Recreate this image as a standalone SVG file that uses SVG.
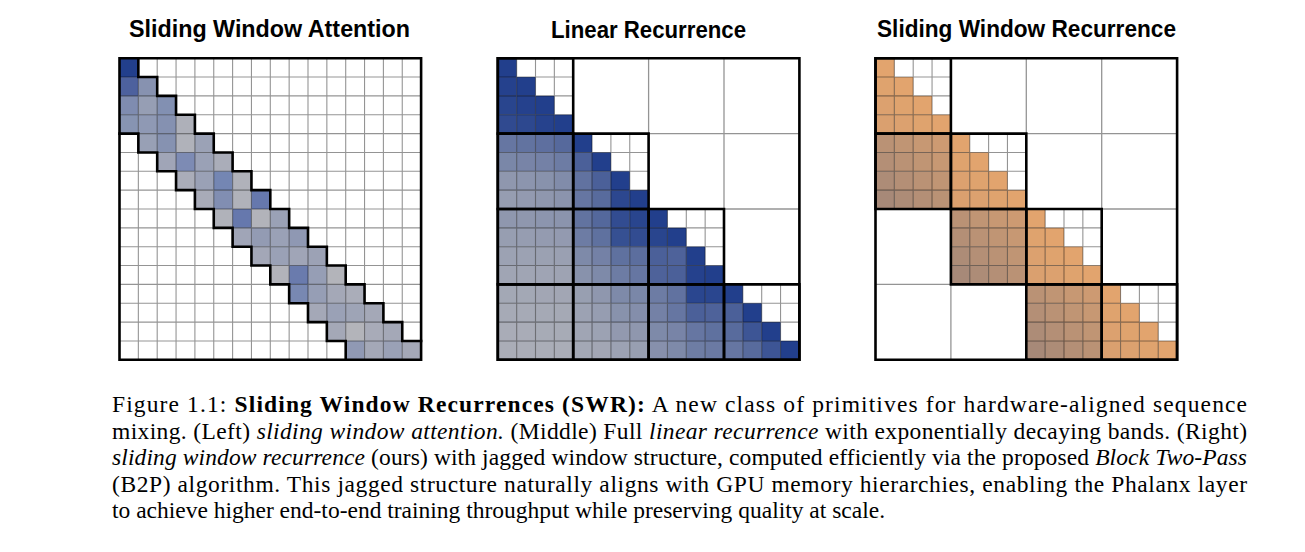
<svg xmlns="http://www.w3.org/2000/svg" width="1305" height="552" viewBox="0 0 1305 552">
<style>
.title{font-family:"Liberation Sans",Arial,sans-serif;font-weight:bold;font-size:23px;fill:#000}
.cap{font-family:"Liberation Serif","Times New Roman",serif;font-size:23.5px;fill:#000}
.b{font-weight:bold}
.i{font-style:italic}
.thin{fill:none;stroke:#000;stroke-opacity:.42;stroke-width:1.1;vector-effect:non-scaling-stroke}
.blk{fill:none;stroke:#000;stroke-opacity:.42;stroke-width:1.3;vector-effect:non-scaling-stroke}
.thick,.thick *{fill:none;stroke:#000;stroke-width:2.6;vector-effect:non-scaling-stroke;stroke-linecap:square}
</style>
<defs>
<g id="rd">
<rect x="0" y="0" width="1" height="1" fill="#e2a46e"/>
<rect x="0" y="1" width="1" height="1" fill="#dfa36e"/><rect x="1" y="1" width="1" height="1" fill="#e2a46e"/>
<rect x="0" y="2" width="1" height="1" fill="#dca16f"/><rect x="1" y="2" width="1" height="1" fill="#dfa36e"/><rect x="2" y="2" width="1" height="1" fill="#e2a46e"/>
<rect x="0" y="3" width="1" height="1" fill="#daa06f"/><rect x="1" y="3" width="1" height="1" fill="#dca16f"/><rect x="2" y="3" width="1" height="1" fill="#dfa36e"/><rect x="3" y="3" width="1" height="1" fill="#e2a46e"/>
</g>
<g id="rs">
<rect x="0" y="0" width="1" height="1" fill="#ba9275"/><rect x="1" y="0" width="1" height="1" fill="#c09574"/><rect x="2" y="0" width="1" height="1" fill="#c79873"/><rect x="3" y="0" width="1" height="1" fill="#cd9a72"/>
<rect x="0" y="1" width="1" height="1" fill="#b48f76"/><rect x="1" y="1" width="1" height="1" fill="#ba9275"/><rect x="2" y="1" width="1" height="1" fill="#c09574"/><rect x="3" y="1" width="1" height="1" fill="#c79873"/>
<rect x="0" y="2" width="1" height="1" fill="#ad8c77"/><rect x="1" y="2" width="1" height="1" fill="#b48f76"/><rect x="2" y="2" width="1" height="1" fill="#ba9275"/><rect x="3" y="2" width="1" height="1" fill="#c09574"/>
<rect x="0" y="3" width="1" height="1" fill="#a78978"/><rect x="1" y="3" width="1" height="1" fill="#ad8c77"/><rect x="2" y="3" width="1" height="1" fill="#b48f76"/><rect x="3" y="3" width="1" height="1" fill="#ba9275"/>
</g>
</defs>

<g id="panel-swa">
<text class="title" x="129" y="37" textLength="281" lengthAdjust="spacingAndGlyphs">Sliding Window Attention</text>
<g transform="translate(119.5,58.2) scale(18.85)">
<rect width="16" height="16" fill="#fff"/>
<rect x="0" y="0" width="1" height="1" fill="#223f8c"/>
<rect x="0" y="1" width="1" height="1" fill="#4d619e"/><rect x="1" y="1" width="1" height="1" fill="#8792b0"/>
<rect x="0" y="2" width="1" height="1" fill="#7f8cb0"/><rect x="1" y="2" width="1" height="1" fill="#969eb4"/><rect x="2" y="2" width="1" height="1" fill="#8290b2"/>
<rect x="0" y="3" width="1" height="1" fill="#8794b2"/><rect x="1" y="3" width="1" height="1" fill="#8f99b4"/><rect x="2" y="3" width="1" height="1" fill="#8591b1"/><rect x="3" y="3" width="1" height="1" fill="#aeb0b9"/>
<rect x="1" y="4" width="1" height="1" fill="#98a0b5"/><rect x="2" y="4" width="1" height="1" fill="#8692b1"/><rect x="3" y="4" width="1" height="1" fill="#b0b2ba"/><rect x="4" y="4" width="1" height="1" fill="#9ba2b6"/>
<rect x="2" y="5" width="1" height="1" fill="#a0a5b7"/><rect x="3" y="5" width="1" height="1" fill="#7d8bb4"/><rect x="4" y="5" width="1" height="1" fill="#9aa1b6"/><rect x="5" y="5" width="1" height="1" fill="#aaadb9"/>
<rect x="3" y="6" width="1" height="1" fill="#aaadb9"/><rect x="4" y="6" width="1" height="1" fill="#9aa1b6"/><rect x="5" y="6" width="1" height="1" fill="#7486b3"/><rect x="6" y="6" width="1" height="1" fill="#b0b2ba"/>
<rect x="4" y="7" width="1" height="1" fill="#a8abb8"/><rect x="5" y="7" width="1" height="1" fill="#818eb2"/><rect x="6" y="7" width="1" height="1" fill="#b0b2ba"/><rect x="7" y="7" width="1" height="1" fill="#6678ad"/>
<rect x="5" y="8" width="1" height="1" fill="#b0b2ba"/><rect x="6" y="8" width="1" height="1" fill="#6678ad"/><rect x="7" y="8" width="1" height="1" fill="#b2b3ba"/><rect x="8" y="8" width="1" height="1" fill="#9aa1b6"/>
<rect x="6" y="9" width="1" height="1" fill="#a0a5b7"/><rect x="7" y="9" width="1" height="1" fill="#939bb3"/><rect x="8" y="9" width="1" height="1" fill="#9aa1b6"/><rect x="9" y="9" width="1" height="1" fill="#8f98b3"/>
<rect x="7" y="10" width="1" height="1" fill="#a3a7b7"/><rect x="8" y="10" width="1" height="1" fill="#9aa1b6"/><rect x="9" y="10" width="1" height="1" fill="#a0a5b7"/><rect x="10" y="10" width="1" height="1" fill="#9ca2b5"/>
<rect x="8" y="11" width="1" height="1" fill="#b2b3ba"/><rect x="9" y="11" width="1" height="1" fill="#6a7bad"/><rect x="10" y="11" width="1" height="1" fill="#969eb5"/><rect x="11" y="11" width="1" height="1" fill="#b3b4ba"/>
<rect x="9" y="12" width="1" height="1" fill="#7888b2"/><rect x="10" y="12" width="1" height="1" fill="#969eb5"/><rect x="11" y="12" width="1" height="1" fill="#a4a8b7"/><rect x="12" y="12" width="1" height="1" fill="#aaadb9"/>
<rect x="10" y="13" width="1" height="1" fill="#a4a8b7"/><rect x="11" y="13" width="1" height="1" fill="#9aa1b6"/><rect x="12" y="13" width="1" height="1" fill="#9ea4b6"/><rect x="13" y="13" width="1" height="1" fill="#a4a8b7"/>
<rect x="11" y="14" width="1" height="1" fill="#a4a8b7"/><rect x="12" y="14" width="1" height="1" fill="#b3b4ba"/><rect x="13" y="14" width="1" height="1" fill="#a8abb8"/><rect x="14" y="14" width="1" height="1" fill="#a4a8b7"/>
<rect x="12" y="15" width="1" height="1" fill="#9099b4"/><rect x="13" y="15" width="1" height="1" fill="#a4a8b7"/><rect x="14" y="15" width="1" height="1" fill="#9aa1b6"/><rect x="15" y="15" width="1" height="1" fill="#a4a8b7"/>
<path class="thin" d="M1 0V16M2 0V16M3 0V16M4 0V16M5 0V16M6 0V16M7 0V16M8 0V16M9 0V16M10 0V16M11 0V16M12 0V16M13 0V16M14 0V16M15 0V16M0 1H16M0 2H16M0 3H16M0 4H16M0 5H16M0 6H16M0 7H16M0 8H16M0 9H16M0 10H16M0 11H16M0 12H16M0 13H16M0 14H16M0 15H16"/>
<path class="thick" d="M1 0V1H2V2H3V3H4V4H5V5H6V6H7V7H8V8H9V9H10V10H11V11H12V12H13V13H14V14H15V15H16"/>
<path class="thick" d="M0 4H1V5H2V6H3V7H4V8H5V9H6V10H7V11H8V12H9V13H10V14H11V15H12V16"/>
<rect class="thick" width="16" height="16"/>
</g>
</g>

<g id="panel-lr">
<text class="title" x="551" y="38" textLength="195" lengthAdjust="spacingAndGlyphs">Linear Recurrence</text>
<g transform="translate(497.8,58.2) scale(18.85)">
<rect width="16" height="16" fill="#fff"/>
<rect x="0" y="0" width="1" height="1" fill="#223f8c"/>
<rect x="0" y="1" width="1" height="1" fill="#25418d"/><rect x="1" y="1" width="1" height="1" fill="#223f8c"/>
<rect x="0" y="2" width="1" height="1" fill="#29458e"/><rect x="1" y="2" width="1" height="1" fill="#25418d"/><rect x="2" y="2" width="1" height="1" fill="#223f8c"/>
<rect x="0" y="3" width="1" height="1" fill="#304a90"/><rect x="1" y="3" width="1" height="1" fill="#2d488f"/><rect x="2" y="3" width="1" height="1" fill="#26428d"/><rect x="3" y="3" width="1" height="1" fill="#223f8c"/>
<rect x="0" y="4" width="1" height="1" fill="#6676a2"/><rect x="1" y="4" width="1" height="1" fill="#6273a0"/><rect x="2" y="4" width="1" height="1" fill="#5e6f9f"/><rect x="3" y="4" width="1" height="1" fill="#56699c"/><rect x="4" y="4" width="1" height="1" fill="#223f8c"/>
<rect x="0" y="5" width="1" height="1" fill="#7a87a8"/><rect x="1" y="5" width="1" height="1" fill="#7884a7"/><rect x="2" y="5" width="1" height="1" fill="#7481a6"/><rect x="3" y="5" width="1" height="1" fill="#6d7ca4"/><rect x="4" y="5" width="1" height="1" fill="#4b6099"/><rect x="5" y="5" width="1" height="1" fill="#223f8c"/>
<rect x="0" y="6" width="1" height="1" fill="#8f97ae"/><rect x="1" y="6" width="1" height="1" fill="#8c95ae"/><rect x="2" y="6" width="1" height="1" fill="#8892ac"/><rect x="3" y="6" width="1" height="1" fill="#818caa"/><rect x="4" y="6" width="1" height="1" fill="#6172a0"/><rect x="5" y="6" width="1" height="1" fill="#4b6099"/><rect x="6" y="6" width="1" height="1" fill="#223f8c"/>
<rect x="0" y="7" width="1" height="1" fill="#969db1"/><rect x="1" y="7" width="1" height="1" fill="#939ab0"/><rect x="2" y="7" width="1" height="1" fill="#8f97ae"/><rect x="3" y="7" width="1" height="1" fill="#8b94ad"/><rect x="4" y="7" width="1" height="1" fill="#6676a2"/><rect x="5" y="7" width="1" height="1" fill="#586b9d"/><rect x="6" y="7" width="1" height="1" fill="#2c478f"/><rect x="7" y="7" width="1" height="1" fill="#223f8c"/>
<rect x="0" y="8" width="1" height="1" fill="#8f97ae"/><rect x="1" y="8" width="1" height="1" fill="#8f97ae"/><rect x="2" y="8" width="1" height="1" fill="#8c95ae"/><rect x="3" y="8" width="1" height="1" fill="#8b94ad"/><rect x="4" y="8" width="1" height="1" fill="#6273a0"/><rect x="5" y="8" width="1" height="1" fill="#54689c"/><rect x="6" y="8" width="1" height="1" fill="#324c91"/><rect x="7" y="8" width="1" height="1" fill="#29458e"/><rect x="8" y="8" width="1" height="1" fill="#223f8c"/>
<rect x="0" y="9" width="1" height="1" fill="#979eb1"/><rect x="1" y="9" width="1" height="1" fill="#969db1"/><rect x="2" y="9" width="1" height="1" fill="#949bb0"/><rect x="3" y="9" width="1" height="1" fill="#939ab0"/><rect x="4" y="9" width="1" height="1" fill="#6d7ca4"/><rect x="5" y="9" width="1" height="1" fill="#5f719f"/><rect x="6" y="9" width="1" height="1" fill="#365092"/><rect x="7" y="9" width="1" height="1" fill="#324c91"/><rect x="8" y="9" width="1" height="1" fill="#29458e"/><rect x="9" y="9" width="1" height="1" fill="#223f8c"/>
<rect x="0" y="10" width="1" height="1" fill="#9ca2b3"/><rect x="1" y="10" width="1" height="1" fill="#9ca2b3"/><rect x="2" y="10" width="1" height="1" fill="#9ba1b2"/><rect x="3" y="10" width="1" height="1" fill="#9aa0b2"/><rect x="4" y="10" width="1" height="1" fill="#7e8aa9"/><rect x="5" y="10" width="1" height="1" fill="#7481a6"/><rect x="6" y="10" width="1" height="1" fill="#5f719f"/><rect x="7" y="10" width="1" height="1" fill="#5c6e9e"/><rect x="8" y="10" width="1" height="1" fill="#4b6099"/><rect x="9" y="10" width="1" height="1" fill="#4e629a"/><rect x="10" y="10" width="1" height="1" fill="#223f8c"/>
<rect x="0" y="11" width="1" height="1" fill="#a0a5b4"/><rect x="1" y="11" width="1" height="1" fill="#a0a5b4"/><rect x="2" y="11" width="1" height="1" fill="#9fa4b4"/><rect x="3" y="11" width="1" height="1" fill="#9ea3b3"/><rect x="4" y="11" width="1" height="1" fill="#8892ac"/><rect x="5" y="11" width="1" height="1" fill="#7e8aa9"/><rect x="6" y="11" width="1" height="1" fill="#6d7ca4"/><rect x="7" y="11" width="1" height="1" fill="#6676a2"/><rect x="8" y="11" width="1" height="1" fill="#4e629a"/><rect x="9" y="11" width="1" height="1" fill="#4b6099"/><rect x="10" y="11" width="1" height="1" fill="#25418d"/><rect x="11" y="11" width="1" height="1" fill="#223f8c"/>
<rect x="0" y="12" width="1" height="1" fill="#a3a8b5"/><rect x="1" y="12" width="1" height="1" fill="#a3a8b5"/><rect x="2" y="12" width="1" height="1" fill="#a2a6b4"/><rect x="3" y="12" width="1" height="1" fill="#a2a6b4"/><rect x="4" y="12" width="1" height="1" fill="#989fb1"/><rect x="5" y="12" width="1" height="1" fill="#8f97ae"/><rect x="6" y="12" width="1" height="1" fill="#7e8aa9"/><rect x="7" y="12" width="1" height="1" fill="#7a87a8"/><rect x="8" y="12" width="1" height="1" fill="#6d7ca4"/><rect x="9" y="12" width="1" height="1" fill="#6172a0"/><rect x="10" y="12" width="1" height="1" fill="#2a468f"/><rect x="11" y="12" width="1" height="1" fill="#2a468f"/><rect x="12" y="12" width="1" height="1" fill="#223f8c"/>
<rect x="0" y="13" width="1" height="1" fill="#a6aab6"/><rect x="1" y="13" width="1" height="1" fill="#a6aab6"/><rect x="2" y="13" width="1" height="1" fill="#a5a9b5"/><rect x="3" y="13" width="1" height="1" fill="#a5a9b5"/><rect x="4" y="13" width="1" height="1" fill="#9ca2b3"/><rect x="5" y="13" width="1" height="1" fill="#969db1"/><rect x="6" y="13" width="1" height="1" fill="#8892ac"/><rect x="7" y="13" width="1" height="1" fill="#848eab"/><rect x="8" y="13" width="1" height="1" fill="#7481a6"/><rect x="9" y="13" width="1" height="1" fill="#6676a2"/><rect x="10" y="13" width="1" height="1" fill="#4b6099"/><rect x="11" y="13" width="1" height="1" fill="#4e629a"/><rect x="12" y="13" width="1" height="1" fill="#4b6099"/><rect x="13" y="13" width="1" height="1" fill="#223f8c"/>
<rect x="0" y="14" width="1" height="1" fill="#a9acb7"/><rect x="1" y="14" width="1" height="1" fill="#a9acb7"/><rect x="2" y="14" width="1" height="1" fill="#a7abb6"/><rect x="3" y="14" width="1" height="1" fill="#a7abb6"/><rect x="4" y="14" width="1" height="1" fill="#a0a5b4"/><rect x="5" y="14" width="1" height="1" fill="#9ca2b3"/><rect x="6" y="14" width="1" height="1" fill="#9299af"/><rect x="7" y="14" width="1" height="1" fill="#8f97ae"/><rect x="8" y="14" width="1" height="1" fill="#7e8aa9"/><rect x="9" y="14" width="1" height="1" fill="#7884a7"/><rect x="10" y="14" width="1" height="1" fill="#6676a2"/><rect x="11" y="14" width="1" height="1" fill="#5f719f"/><rect x="12" y="14" width="1" height="1" fill="#586b9d"/><rect x="13" y="14" width="1" height="1" fill="#3d5595"/><rect x="14" y="14" width="1" height="1" fill="#223f8c"/>
<rect x="0" y="15" width="1" height="1" fill="#aaadb7"/><rect x="1" y="15" width="1" height="1" fill="#aaadb7"/><rect x="2" y="15" width="1" height="1" fill="#aaadb7"/><rect x="3" y="15" width="1" height="1" fill="#aaadb7"/><rect x="4" y="15" width="1" height="1" fill="#a3a8b5"/><rect x="5" y="15" width="1" height="1" fill="#a2a6b4"/><rect x="6" y="15" width="1" height="1" fill="#9ca2b3"/><rect x="7" y="15" width="1" height="1" fill="#989fb1"/><rect x="8" y="15" width="1" height="1" fill="#8790ac"/><rect x="9" y="15" width="1" height="1" fill="#7e8aa9"/><rect x="10" y="15" width="1" height="1" fill="#6e7da4"/><rect x="11" y="15" width="1" height="1" fill="#6b7aa3"/><rect x="12" y="15" width="1" height="1" fill="#6676a2"/><rect x="13" y="15" width="1" height="1" fill="#586b9d"/><rect x="14" y="15" width="1" height="1" fill="#3d5595"/><rect x="15" y="15" width="1" height="1" fill="#223f8c"/>
<path class="thin" d="M0 1H4M0 2H4M0 3H4M0 5H8M0 6H8M0 7H8M0 9H12M0 10H12M0 11H12M0 13H16M0 14H16M0 15H16M1 0V16M2 0V16M3 0V16M5 4V16M6 4V16M7 4V16M9 8V16M10 8V16M11 8V16M13 12V16M14 12V16M15 12V16"/>
<path class="blk" d="M4 0V16M8 0V16M12 0V16M0 4H16M0 8H16M0 12H16"/>
<g class="thick">
<rect x="0" y="0" width="4" height="4"/>
<rect x="0" y="4" width="4" height="4"/><rect x="4" y="4" width="4" height="4"/>
<rect x="0" y="8" width="4" height="4"/><rect x="4" y="8" width="4" height="4"/><rect x="8" y="8" width="4" height="4"/>
<rect x="0" y="12" width="4" height="4"/><rect x="4" y="12" width="4" height="4"/><rect x="8" y="12" width="4" height="4"/><rect x="12" y="12" width="4" height="4"/>
<rect width="16" height="16"/>
</g>
</g>
</g>

<g id="panel-swr">
<text class="title" x="877" y="37" textLength="299" lengthAdjust="spacingAndGlyphs">Sliding Window Recurrence</text>
<g transform="translate(875.5,58.2) scale(18.85)">
<rect width="16" height="16" fill="#fff"/>
<use href="#rd" x="0" y="0"/><use href="#rd" x="4" y="4"/><use href="#rd" x="8" y="8"/><use href="#rd" x="12" y="12"/>
<use href="#rs" x="0" y="4"/><use href="#rs" x="4" y="8"/><use href="#rs" x="8" y="12"/>
<path class="thin" d="M0 1H4M0 2H4M0 3H4M0 5H8M0 6H8M0 7H8M4 9H12M4 10H12M4 11H12M8 13H16M8 14H16M8 15H16M1 0V8M2 0V8M3 0V8M5 4V12M6 4V12M7 4V12M9 8V16M10 8V16M11 8V16M13 12V16M14 12V16M15 12V16"/>
<path class="blk" d="M4 0V16M8 0V16M12 0V16M0 4H16M0 8H16M0 12H16"/>
<g class="thick">
<rect x="0" y="0" width="4" height="4"/><rect x="0" y="4" width="4" height="4"/><rect x="4" y="4" width="4" height="4"/>
<rect x="4" y="8" width="4" height="4"/><rect x="8" y="8" width="4" height="4"/><rect x="8" y="12" width="4" height="4"/><rect x="12" y="12" width="4" height="4"/>
<rect width="16" height="16"/>
</g>
</g>
</g>

<g id="caption">
<text class="cap" x="112" y="412" textLength="1135" lengthAdjust="spacing">Figure 1.1: <tspan class="b">Sliding Window Recurrences (SWR):</tspan> A new class of primitives for hardware-aligned sequence</text>
<text class="cap" x="112" y="438.5" textLength="1135" lengthAdjust="spacing">mixing. (Left) <tspan class="i">sliding window attention.</tspan> (Middle) Full <tspan class="i">linear recurrence</tspan> with exponentially decaying bands. (Right)</text>
<text class="cap" x="112" y="465" textLength="1135" lengthAdjust="spacing"><tspan class="i">sliding window recurrence</tspan> (ours) with jagged window structure, computed efficiently via the proposed <tspan class="i">Block Two-Pass</tspan></text>
<text class="cap" x="112" y="491.5" textLength="1135" lengthAdjust="spacing">(B2P) algorithm. This jagged structure naturally aligns with GPU memory hierarchies, enabling the Phalanx layer</text>
<text class="cap" x="112" y="518" textLength="773" lengthAdjust="spacing">to achieve higher end-to-end training throughput while preserving quality at scale.</text>
</g>
</svg>
